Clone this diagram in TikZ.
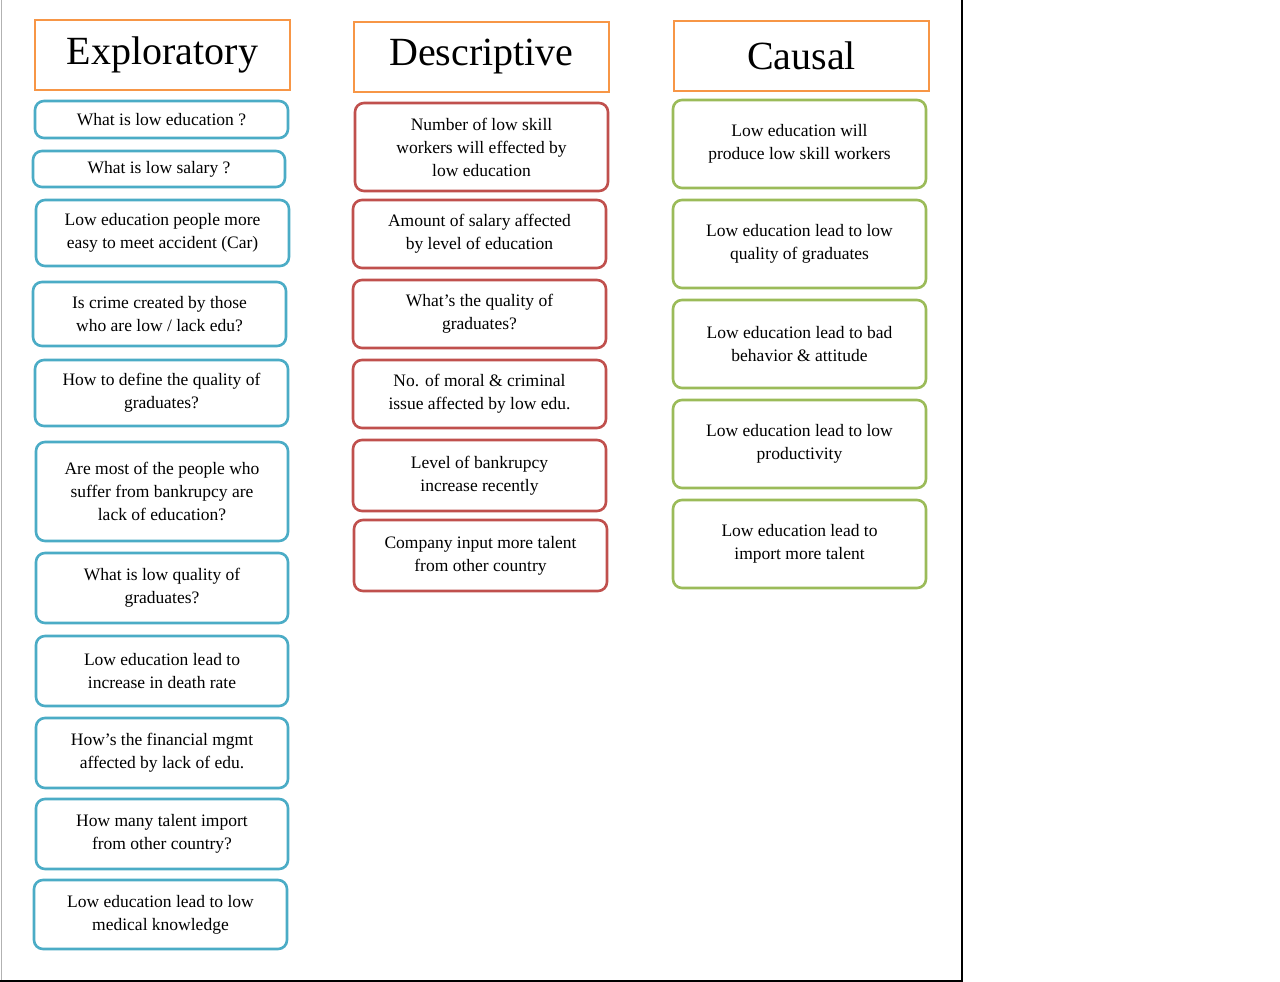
\documentclass[tikz,border=0pt]{standalone}
\usepackage{fontspec}
\setmainfont{Liberation Serif}
\definecolor{cOr}{HTML}{F79646}
\definecolor{cCy}{HTML}{4BACC6}
\definecolor{cRd}{HTML}{C0504D}
\definecolor{cGr}{HTML}{9BBB59}
\begin{document}
\begin{tikzpicture}[x=1pt,y=-1pt,
 bx/.style={draw,line width=2.6pt,rounded corners=9pt,align=center,inner sep=0pt,font=\fontsize{17.5}{23}\selectfont,fill=white},
 hd/.style={draw=cOr,line width=2pt,inner sep=0pt,font=\fontsize{40}{44}\selectfont,fill=white},
 ex/.style={bx,draw=cCy},
 de/.style={bx,draw=cRd},
 ca/.style={bx,draw=cGr}]
\useasboundingbox (0,0) rectangle (1280,982);
\fill[white] (0,0) rectangle (1280,982);
\draw[gray!60,line width=1pt] (1,0) -- (1,981);
\draw[black,line width=2pt] (962,0) -- (962,981) -- (0,981);
\newcommand\bbox[5]{\node[#1,minimum width={#4-#2},minimum height={#5-#3}] at ({(#2+#4)/2},{(#3+#5)/2})}
\bbox{hd}{35}{20}{290}{90} (h1) {Exploratory};
\bbox{hd}{354}{22}{609}{92} (h2) {Descriptive};
\bbox{hd}{674}{21}{929}{91} (h3) {Causal};
\bbox{ex}{35}{101}{288}{138} (e1) {What is low education ?};
\bbox{ex}{33}{151}{285}{187} (e2) {What is low salary ?};
\bbox{ex}{36}{200}{289}{266} (e3) {Low education people more\\easy to meet accident (Car)};
\bbox{ex}{33}{282}{286}{346} (e4) {Is crime created by those\\who are low / lack edu?};
\bbox{ex}{35}{360}{288}{426} (e5) {How to define the quality of\\graduates?};
\bbox{ex}{36}{442}{288}{541} (e6) {Are most of the people who\\suffer from bankrupcy are\\lack of education?};
\bbox{ex}{36}{553}{288}{623} (e7) {What is low quality of\\graduates?};
\bbox{ex}{36}{636}{288}{706} (e8) {Low education lead to\\increase in death rate};
\bbox{ex}{36}{718}{288}{788} (e9) {How's the financial mgmt\\affected by lack of edu.};
\bbox{ex}{36}{799}{288}{869} (e10) {How many talent import\\from other country?};
\bbox{ex}{34}{880}{287}{949} (e11) {Low education lead to low\\medical knowledge};
\bbox{de}{355}{103}{608}{191} (d1) {Number of low skill\\workers will effected by\\low education};
\bbox{de}{353}{200}{606}{268} (d2) {Amount of salary affected\\by level of education};
\bbox{de}{353}{280}{606}{348} (d3) {What's the quality of\\graduates?};
\bbox{de}{353}{360}{606}{428} (d4) {No. of moral \& criminal\\issue affected by low edu.};
\bbox{de}{353}{440}{606}{511} (d5) {Level of bankrupcy\\increase recently};
\bbox{de}{354}{520}{607}{591} (d6) {Company input more talent\\from other country};
\bbox{ca}{673}{100}{926}{188} (c1) {Low education will\\produce low skill workers};
\bbox{ca}{673}{200}{926}{288} (c2) {Low education lead to low\\quality of graduates};
\bbox{ca}{673}{300}{926}{388} (c3) {Low education lead to bad\\behavior \& attitude};
\bbox{ca}{673}{400}{926}{488} (c4) {Low education lead to low\\productivity};
\bbox{ca}{673}{500}{926}{588} (c5) {Low education lead to\\import more talent};
\end{tikzpicture}
\end{document}
